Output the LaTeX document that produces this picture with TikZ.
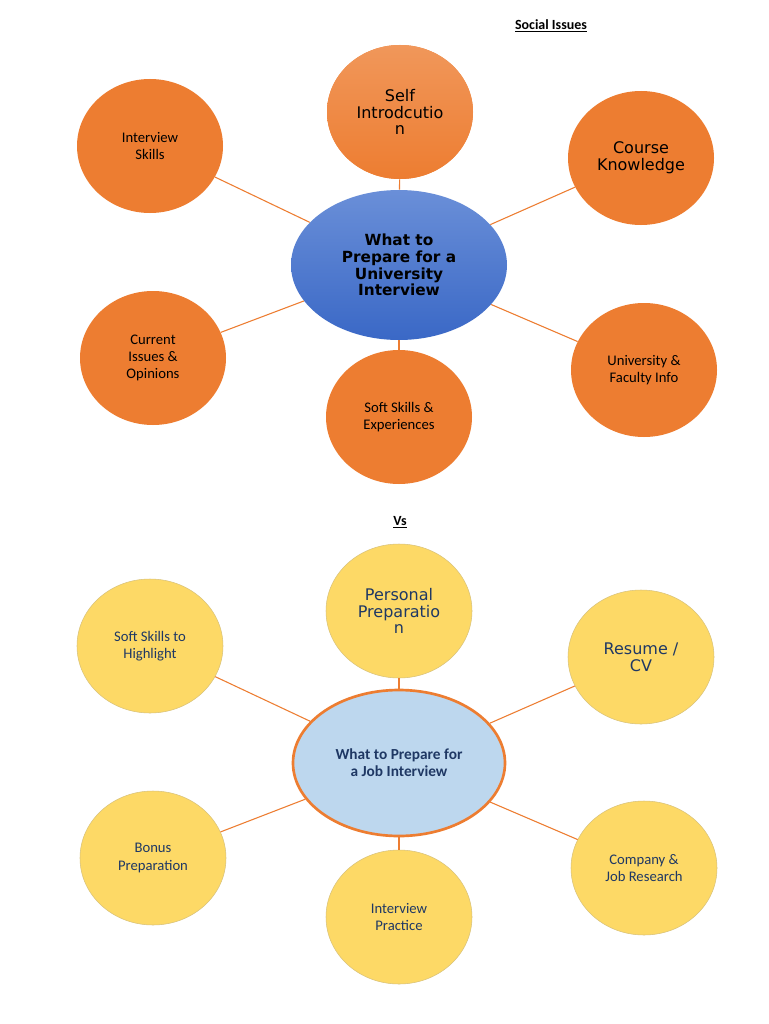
\documentclass[tikz,border=0pt]{standalone}
\usepackage{fontspec}
\setmainfont{Carlito}
\newfontfamily\dvs{DejaVu Sans}
\begin{document}
\begin{tikzpicture}[x=0.75pt,y=-0.75pt,
  bub/.style={ellipse,minimum width=146*0.75pt,minimum height=134*0.75pt,align=center,inner sep=0pt},
  org/.style={bub,fill=orng,text=black},
  yel/.style={bub,fill=yel,draw=yelb,line width=0.4pt,text=navy},
  cal/.style={font=\fontsize{11}{13}\selectfont},
  dj/.style={font=\dvs\fontsize{12}{12.5}\selectfont},
  con/.style={draw=orng,line width=0.8pt}]
\definecolor{orng}{HTML}{ED7D31}
\definecolor{yel}{HTML}{FDD966}
\definecolor{yelb}{HTML}{D9C27A}
\definecolor{navy}{HTML}{1F3864}
\definecolor{bl1}{HTML}{6A8FD8}
\definecolor{bl2}{HTML}{3A68C6}
\definecolor{lb}{HTML}{BDD7EE}
\usetikzlibrary{shapes.geometric}
\useasboundingbox (0,0) rectangle (768,1024);
\fill[white] (0,0) rectangle (768,1024);
\node[font=\bfseries\fontsize{10.5}{12}\selectfont] (si) at (551,26) {\underline{Social Issues}};
\node[font=\bfseries\fontsize{10.5}{12}\selectfont] (vs) at (400,522) {\underline{Vs}};
% top
\node[org,dj,top color=orng!80!white,bottom color=orng] (a1) at (400,112) {Self\\Introdcutio\\n};
\node[org,cal] (a2) at (150,146) {Interview\\Skills};
\node[org,dj] (a3) at (641,158) {Course\\Knowledge};
\node[org,cal] (a4) at (153,358) {Current\\Issues \&\\Opinions};
\node[org,cal] (a5) at (399,417) {Soft Skills \&\\Experiences};
\node[org,cal] (a6) at (644,370) {University \&\\Faculty Info};
\node[ellipse,minimum width=216*0.75pt,minimum height=150*0.75pt,top color=bl1,bottom color=bl2,align=center,font=\dvs\bfseries\fontsize{11.5}{12.5}\selectfont] (ac) at (399,265) {What to\\Prepare for a\\University\\Interview};
\begin{scope}[on background layer/.style={}]
\end{scope}
\foreach \n in {a1,a2,a3,a4,a5,a6}{\path[con] (ac) -- (\n);}
% bottom
\node[yel,dj] (b1) at (399,611) {Personal\\Preparatio\\n};
\node[yel,cal] (b2) at (150,646) {Soft Skills to\\Highlight};
\node[yel,dj] (b3) at (641,657) {Resume /\\CV};
\node[yel,cal] (b4) at (153,858) {Bonus\\Preparation};
\node[yel,cal] (b5) at (399,917) {Interview\\Practice};
\node[yel,cal] (b6) at (644,868) {Company \&\\Job Research};
\node[ellipse,minimum width=212*0.75pt,minimum height=146*0.75pt,fill=lb,draw=orng,line width=2pt,align=center,text=navy,font=\bfseries\fontsize{11.5}{13}\selectfont] (bc) at (399,763) {What to Prepare for\\a Job Interview};
\foreach \n in {b1,b2,b3,b4,b5,b6}{\path[con] (bc) -- (\n);}
\end{tikzpicture}
\end{document}
